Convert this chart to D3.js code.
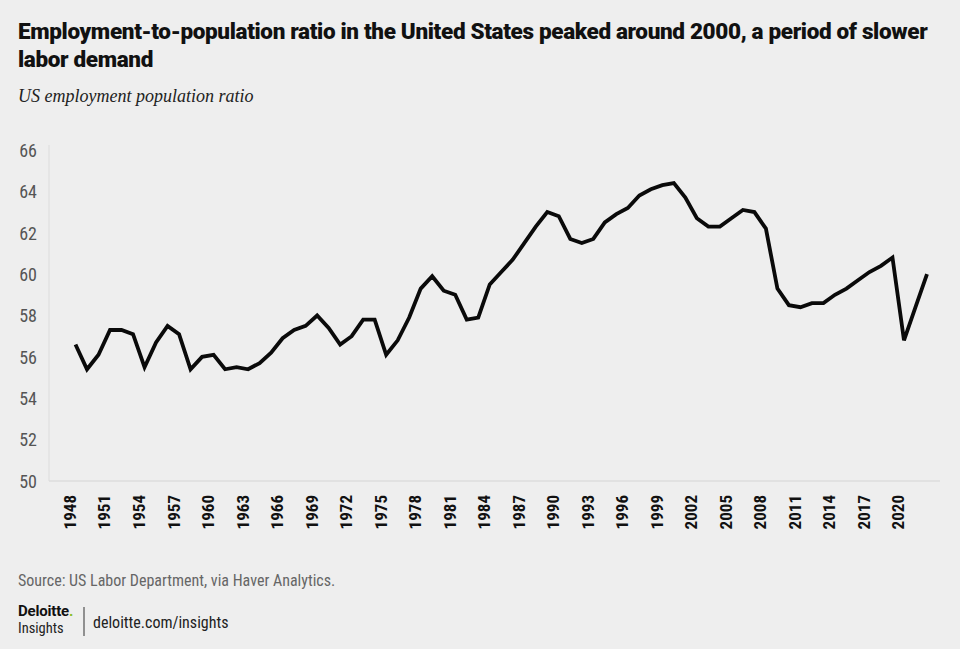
<!DOCTYPE html>
<html><head><meta charset="utf-8">
<script src="https://cdn.jsdelivr.net/npm/d3@7"></script>
<style>
body{margin:0;background:#eeeeee;}
svg{display:block;}
</style></head>
<body>
<svg id="chart" width="960" height="649"></svg>
<script>
const years = d3.range(1948, 2023);
const ratio = [56.6,55.4,56.1,57.3,57.3,57.1,55.5,56.7,57.5,57.1,
55.4,56.0,56.1,55.4,55.5,55.4,55.7,56.2,56.9,57.3,
57.5,58.0,57.4,56.6,57.0,57.8,57.8,56.1,56.8,57.9,
59.3,59.9,59.2,59.0,57.8,57.9,59.5,60.1,60.7,61.5,
62.3,63.0,62.8,61.7,61.5,61.7,62.5,62.9,63.2,63.8,
64.1,64.3,64.4,63.7,62.7,62.3,62.3,62.7,63.1,63.0,
62.2,59.3,58.5,58.4,58.6,58.6,59.0,59.3,59.7,60.1,
60.4,60.8,56.8,58.4,60.0];
const yTicks = [50,52,54,56,58,60,62,64,66];
const xTickYears = d3.range(1948, 2021, 3);
const titleLines = ["Employment-to-population ratio in the United States peaked around 2000, a period of slower","labor demand"];
const subtitle = "US employment population ratio";
const source = "Source: US Labor Department, via Haver Analytics.";

const svg = d3.select("#chart");
svg.append("rect").attr("width",960).attr("height",649).attr("fill","#eeeeee");

const condensed = "'Liberation Sans Narrow','Roboto Condensed','Arial Narrow',Roboto,sans-serif";

// title
const t = svg.append("text").attr("font-family","Roboto,'Noto Sans',sans-serif")
  .attr("font-weight",900).attr("font-size",22.5).attr("letter-spacing",-0.35).attr("fill","#111");
t.append("tspan").attr("x",18).attr("y",39).text(titleLines[0]);
t.append("tspan").attr("x",18).attr("y",67).text(titleLines[1]);

svg.append("text").attr("x",18).attr("y",102)
  .attr("font-family","'Liberation Serif','DejaVu Serif',serif").attr("font-style","italic")
  .attr("font-size",18).attr("fill","#222").text(subtitle);

const x = d3.scaleLinear().domain([1948,2022]).range([75.5,927]);
const y = d3.scaleLinear().domain([50,66]).range([481,150]);

// axes lines
svg.append("line").attr("x1",49).attr("x2",49).attr("y1",145).attr("y2",y(50))
  .attr("stroke","#dcdcdc").attr("stroke-width",1);
svg.append("line").attr("x1",49).attr("x2",940).attr("y1",y(50)).attr("y2",y(50))
  .attr("stroke","#dcdcdc").attr("stroke-width",1.5);

// y ticks
const yAxis = svg.append("g").attr("transform","translate(37,0)")
  .call(d3.axisLeft(y).tickValues(yTicks).tickSize(0).tickPadding(0));
yAxis.select(".domain").remove();
yAxis.selectAll("text").attr("font-family",condensed).attr("font-size",18)
  .attr("fill","#555").attr("dy","0.35em");

// x ticks
const xAxis = svg.append("g").attr("transform",`translate(-6,${y(50)})`)
  .call(d3.axisBottom(x).tickValues(xTickYears).tickFormat(d3.format("d")).tickSize(0));
xAxis.select(".domain").remove();
xAxis.selectAll("text")
  .attr("font-family",condensed).attr("font-weight","bold").attr("font-size",17)
  .attr("fill","#111").attr("text-anchor","end")
  .attr("transform","rotate(-90)").attr("x",-14).attr("y",0).attr("dy","0.35em");

// line
const line = d3.line().x((d,i)=>x(years[i])).y(d=>y(d));
svg.append("path").datum(ratio).attr("d",line).attr("fill","none")
  .attr("stroke","#0a0a0a").attr("stroke-width",3.8).attr("stroke-linejoin","miter");

// source
svg.append("text").attr("x",18).attr("y",586).attr("font-family",condensed)
  .attr("font-size",16).attr("fill","#666").text(source);

// logo
const logo = svg.append("text").attr("x",18).attr("y",616)
  .attr("font-family","Roboto,'Noto Sans',sans-serif").attr("font-weight",700)
  .attr("font-size",15).attr("letter-spacing",-0.2).attr("fill","#111");
logo.append("tspan").text("Deloitte");
logo.append("tspan").attr("fill","#86bc25").text(".");
svg.append("text").attr("x",18).attr("y",633)
  .attr("font-family",condensed)
  .attr("font-size",14.5).attr("fill","#222").text("Insights");
svg.append("line").attr("x1",84).attr("x2",84).attr("y1",607).attr("y2",636)
  .attr("stroke","#333").attr("stroke-width",1);
svg.append("text").attr("x",93).attr("y",628).attr("font-family",condensed)
  .attr("font-size",16).attr("fill","#222").text("deloitte.com/insights");
</script>
</body></html>
